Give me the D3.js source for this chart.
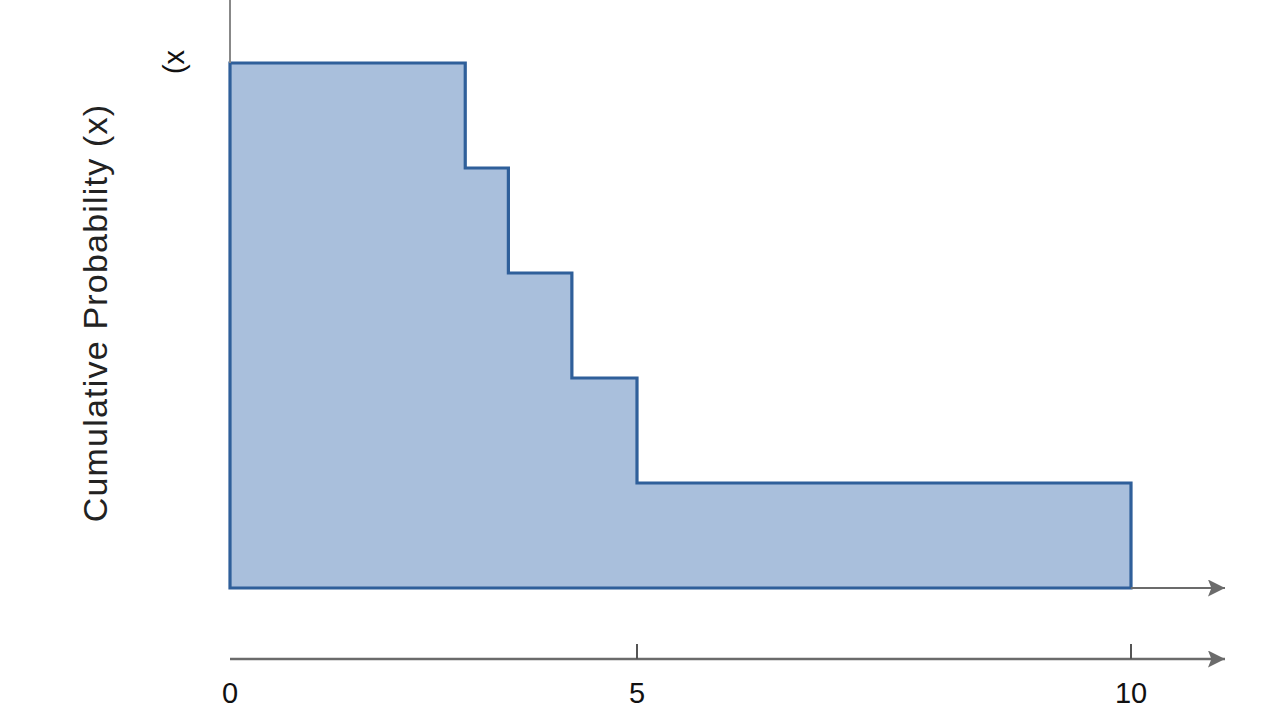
<!DOCTYPE html>
<html><head><meta charset="utf-8">
<script src="https://cdn.jsdelivr.net/npm/d3@7"></script>
<style>body{margin:0;background:#fff}svg{display:block}</style>
</head><body><svg id="c" width="1280" height="720"></svg>
<script>
const stepStarts = [0, 2.89, 3.42, 4.2, 5, 10];
const stepValues = [1.0, 0.8, 0.6, 0.4, 0.2, 0.2];
const tickValues = [0, 5, 10];
const tickLabels = ["0", "5", "10"];
const yLabel = "Cumulative Probability (x)";
const yTopLabel = "(x";

const svg = d3.select("#c");
const x = d3.scaleLinear().domain([0, 5, 10]).range([230, 637, 1131]);
const y = d3.scaleLinear().domain([0, 1]).range([588, 63]);
const data = stepStarts.map((s, i) => ({x: s, v: stepValues[i]}));

const defs = svg.append("defs");
defs.append("marker").attr("id", "arr").attr("viewBox", "0 0 10 10")
  .attr("refX", 10).attr("refY", 5).attr("markerWidth", 24).attr("markerHeight", 17)
  .attr("markerUnits", "userSpaceOnUse").attr("orient", "auto")
  .append("path").attr("d", "M0,0 L10,5 L0,10 L2,5 Z").attr("fill", "#6b6b6b");

// area
const area = d3.area().curve(d3.curveStepAfter)
  .x(d => x(d.x)).y0(y(0)).y1(d => y(d.v));
svg.append("path").datum(data).attr("d", area)
  .attr("fill", "#a9bfdc").attr("stroke", "#2f5f9a").attr("stroke-width", 3.2)
  .attr("stroke-linejoin", "miter");

// y axis line
svg.append("line").attr("x1", x(0)).attr("x2", x(0)).attr("y1", 0).attr("y2", y(1))
  .attr("stroke", "#888").attr("stroke-width", 2);

// x axis with arrow at baseline
svg.append("line").attr("x1", x(10)).attr("x2", 1225).attr("y1", y(0)).attr("y2", y(0))
  .attr("stroke", "#6b6b6b").attr("stroke-width", 2).attr("marker-end", "url(#arr)");

// lower number axis
const axY = 659;
svg.append("line").attr("x1", x(0)).attr("x2", 1225).attr("y1", axY).attr("y2", axY)
  .attr("stroke", "#6b6b6b").attr("stroke-width", 2.5).attr("marker-end", "url(#arr)");
const tg = svg.append("g").selectAll("g").data(tickValues).join("g")
  .attr("transform", d => `translate(${x(d)},${axY})`);
tg.filter(d => d !== 0).append("line").attr("y1", 0).attr("y2", -15)
  .attr("stroke", "#555").attr("stroke-width", 2);
tg.append("text").attr("y", 44).attr("text-anchor", "middle")
  .attr("font-family", "Liberation Sans, Arial, sans-serif").attr("font-size", 29)
  .attr("fill", "#111").text((d, i) => tickLabels[i]);

// y labels
svg.append("text").attr("transform", "translate(107,313) rotate(-90)")
  .attr("text-anchor", "middle").attr("font-family", "Liberation Sans, Arial, sans-serif")
  .attr("font-size", 34).attr("letter-spacing", 1.2).attr("fill", "#222").text(yLabel);
svg.append("text").attr("transform", "translate(184,62) rotate(-90)")
  .attr("text-anchor", "middle").attr("font-family", "Liberation Sans, Arial, sans-serif")
  .attr("font-size", 29).attr("fill", "#111").text(yTopLabel);
</script></body></html>
